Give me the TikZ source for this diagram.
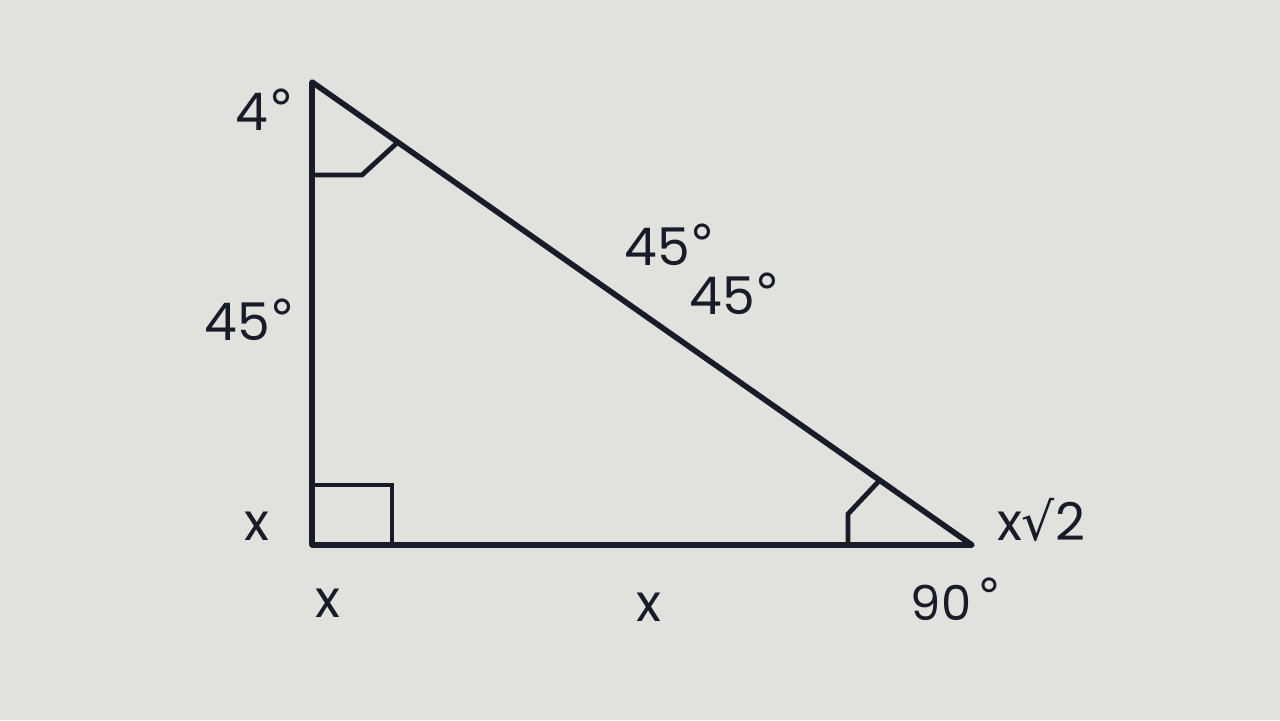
\documentclass[tikz,border=0pt]{standalone}
\usepackage{fontspec}
\setmainfont{Poppins}
\newfontfamily\symfont{DejaVu Sans}
\newcommand{\dg}{\raisebox{1.5pt}{\symfont °}}
\definecolor{bg}{HTML}{E1E1DE}
\definecolor{ink}{HTML}{171C28}
\begin{document}
\begin{tikzpicture}[x=0.5pt,y=-0.5pt,
  edge/.style={draw=ink,line width=2.8pt,line join=round,line cap=round},
  anglemark/.style={draw=ink,line width=2.4pt,line join=miter},
  lbl/.style={text=ink,font=\fontsize{26}{30}\selectfont,anchor=base,inner sep=0pt}]
\fill[bg] (0,0) rectangle (1280,720);
\useasboundingbox (0,0) rectangle (1280,720);
\coordinate (A) at (312,82);
\coordinate (B) at (312,545);
\coordinate (C) at (972,545);
\draw[edge] (A) -- (B) -- (C) -- cycle;
% right angle marker
\coordinate (r1) at (312,485);
\coordinate (r2) at (392,485);
\coordinate (r3) at (392,545);
\draw[anglemark] (r1) -- (r2) -- (r3);
% top angle marker
\coordinate (t1) at (312,175);
\coordinate (t2) at (362,175);
\coordinate (t3) at (398,142);
\draw[anglemark] (t1) -- (t2) -- (t3);
% bottom right marker
\coordinate (b1) at (848,545);
\coordinate (b2) at (848,514);
\coordinate (b3) at (879,481);
\draw[anglemark] (b1) -- (b2) -- (b3);
% labels
\node[lbl] (l1) at (265,130) {4\dg};
\node[lbl] (l2) at (250,340) {45\dg};
\node[lbl] (l3) at (257,540) {x};
\node[lbl] (l4) at (328,617) {x};
\node[lbl] (l5) at (649,621) {x};
\node[lbl,font=\fontsize{24}{28}\selectfont] (l6) at (956,620) {90\hspace{3pt}\raisebox{2pt}{\dg}};
\node[lbl] (l7) at (1041,540) {x{\symfont √}2};
\node[lbl] (l8) at (670,265) {45\dg};
\node[lbl] (l9) at (735,314) {45\dg};
\end{tikzpicture}
\end{document}
